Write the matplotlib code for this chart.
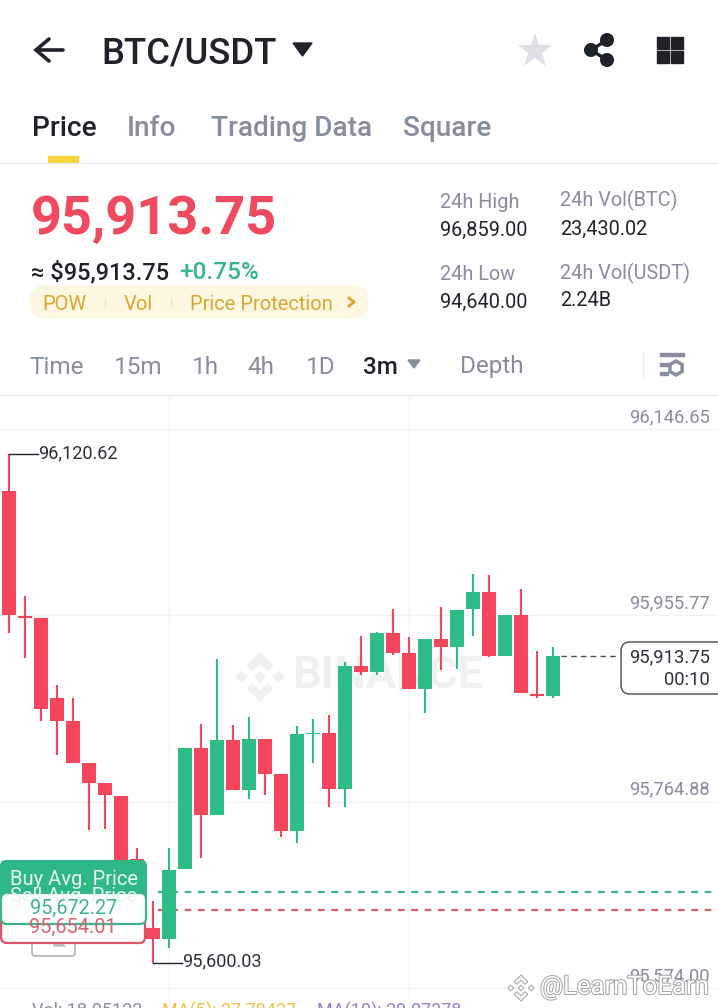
import matplotlib
matplotlib.use('Agg')
import matplotlib.pyplot as plt
import matplotlib.patheffects as pe
from matplotlib.patches import FancyBboxPatch, Rectangle, Circle, Polygon, RegularPolygon

W, H = 718, 1008
plt.rcParams['font.family'] = ['Roboto', 'DejaVu Sans']

# candles (oldest first)
opens = [96083.1, 95955.5, 95953.0, 95871.1, 95847.5, 95804.5, 95784.0, 95770.7, 95706.2, 95635.5,
         95624.2, 95695.9, 95819.9, 95751.2, 95828.1, 95776.8, 95829.1, 95793.2, 95734.8, 95834.6,
         95835.2, 95777.9, 95903.9, 95897.7, 95937.7, 95917.2, 95880.3, 95931.5, 95923.3, 95962.3,
         95979.7, 95914.1, 95956.1, 95875.2, 95873.1]
closes = [95956.1, 95953.5, 95859.8, 95847.5, 95804.5, 95784.0, 95771.7, 95705.1, 95635.5, 95624.2,
          95694.9, 95819.9, 95751.2, 95828.1, 95776.8, 95829.1, 95793.2, 95734.8, 95834.2, 95835.2,
          95777.9, 95903.9, 95897.7, 95937.7, 95917.2, 95880.3, 95931.5, 95923.3, 95961.2, 95979.7,
          95914.1, 95956.1, 95876.2, 95873.1, 95913.75]
highs = [96120.62, 95975.6, 95953.0, 95884.4, 95871.1, 95804.5, 95784.0, 95770.7, 95717.4, 95663.1,
         95717.4, 95819.9, 95844.4, 95911.0, 95843.4, 95851.6, 95829.1, 95793.2, 95842.4, 95849.6,
         95853.7, 95908.0, 95934.6, 95938.7, 95962.3, 95933.6, 95931.5, 95964.3, 95961.2, 95998.1,
         95997.1, 95956.1, 95982.7, 95919.2, 95923.3]
lows = [95937.7, 95912.1, 95847.8, 95812.7, 95804.5, 95735.9, 95736.9, 95705.1, 95635.5, 95600.03,
        95615.0, 95695.9, 95707.2, 95751.2, 95776.8, 95767.6, 95771.7, 95728.7, 95722.5, 95804.5,
        95759.4, 95759.4, 95894.6, 95894.6, 95915.1, 95880.3, 95855.7, 95899.8, 95900.8, 95934.6,
        95913.1, 95914.1, 95876.2, 95871.1, 95871.1]

price_ticks = [96146.65, 95955.77, 95764.88, 95574.00]
last_price = 95913.75
buy_avg = 95672.27
sell_avg = 95654.01

RED = '#f6465d'
GREEN = '#2ebd85'
DARK = '#1e2329'
GRAY = '#848e9c'
GRID = '#f0f1f3'

fig = plt.figure(figsize=(W / 100, H / 100), dpi=100, facecolor='white')


def pixel_axes(z):
    a = fig.add_axes([0, 0, 1, 1], zorder=z)
    a.set_xlim(0, W)
    a.set_ylim(H, 0)
    a.axis('off')
    a.patch.set_alpha(0)
    return a


def logo(a, cx, cy, s, **kw):
    # binance diamond: centre square, two side squares, two chevrons
    a.add_patch(Polygon([(cx, cy - s * .22), (cx + s * .22, cy), (cx, cy + s * .22), (cx - s * .22, cy)], **kw))
    for q in (1, -1):
        a.add_patch(Polygon([(cx - q * s, cy), (cx - q * s * .78, cy - s * .22), (cx - q * s * .56, cy),
                             (cx - q * s * .78, cy + s * .22)], **kw))
        a.add_patch(Polygon([(cx, cy - q * s), (cx + s * .52, cy - q * s * .48), (cx + s * .32, cy - q * s * .28),
                             (cx, cy - q * s * .6), (cx - s * .32, cy - q * s * .28), (cx - s * .52, cy - q * s * .48)], **kw))


back = pixel_axes(0)
ax = fig.add_axes([0, 0, 1, (H - 396) / H], zorder=1)
top = pixel_axes(2)

# ---- header
back.plot([63, 37], [50, 50], color=DARK, lw=2.6, solid_capstyle='round')
back.plot([49, 36, 49], [39, 50, 61], color=DARK, lw=2.6, solid_capstyle='round', solid_joinstyle='miter')
back.text(101.5, 54, 'BTC/USDT', fontsize=26.3, color=DARK, weight='medium', va='center')
back.add_patch(Polygon([(293, 43), (312, 43), (302.5, 56)], color=DARK))
back.plot(535, 51, marker='*', ms=26, color='#dde0e5', mew=0)
for cx, cy in [(607, 40), (591, 50), (607, 60)]:
    back.add_patch(Circle((cx, cy), 6.3, color=DARK))
back.plot([607, 591, 607], [40, 50, 60], color=DARK, lw=2.4)
for sx, sy in [(657, 37), (671, 37), (657, 51), (671, 51)]:
    back.add_patch(Rectangle((sx, sy), 12, 12, color=DARK))

# ---- tabs
tab_x = [31.5, 127, 211, 403]
tab_names = ['Price', 'Info', 'Trading Data', 'Square']
for i in range(4):
    back.text(tab_x[i], 128, tab_names[i], fontsize=20.2, va='center',
              color=DARK if i == 0 else GRAY, weight='medium')
back.add_patch(Rectangle((48, 156), 30, 6, color='#f8d33a'))
back.plot([0, W], [162.5, 162.5], color='#eaecef', lw=1)

# ---- price block
back.text(31, 219.5, '95,913.75', fontsize=39, color='#ef4a60', weight='bold', va='center')
back.text(31, 272.5, '≈ $95,913.75', fontsize=17, color=DARK, weight='medium', va='center')
back.text(179, 272.5, '+0.75%', fontsize=17.5, color='#36b786', weight='medium', va='center')
back.add_patch(FancyBboxPatch((38, 294), 322, 16, boxstyle='round,pad=0,rounding_size=6', mutation_aspect=1,
                              fc='#fdf6e1', ec='#fdf6e1', lw=12, joinstyle='round'))
for px, s in [(42, 'POW'), (124, 'Vol'), (190, 'Price Protection')]:
    back.text(px, 304, s, fontsize=14.5, color='#d8a82e', va='center')
back.plot([105, 105], [298, 306], color='#f1e3b4', lw=1)
back.plot([171, 171], [298, 306], color='#f1e3b4', lw=1)
back.plot([349, 354, 349], [298, 302, 306], color='#d8a82e', lw=2)

stats = [(440, 202.5, '24h High', GRAY), (440, 230, '96,859.00', DARK),
         (560, 200.5, '24h Vol(BTC)', GRAY), (560, 229, '23,430.02', DARK),
         (440, 274.5, '24h Low', GRAY), (440, 302, '94,640.00', DARK),
         (560, 273.5, '24h Vol(USDT)', GRAY), (560, 301, '2.24B', DARK)]
for px, py, s, c in stats:
    back.text(px, py, s, fontsize=14.3, color=c, va='center')

# ---- timeframe row
for px, s in [(29, 'Time'), (113.5, '15m'), (191.5, '1h'), (247.5, '4h'), (305.5, '1D'), (460, 'Depth')]:
    back.text(px, 367, s, fontsize=17.5, color=GRAY, va='center')
back.text(363.5, 367, '3m', fontsize=17.5, color=DARK, weight='medium', va='center')
back.add_patch(Polygon([(408, 360), (420, 360), (414, 368)], color=GRAY))
back.plot([643, 643], [352, 378], color='#e6e8eb', lw=1)
back.add_patch(Rectangle((660, 353), 24, 3, color=GRAY))
back.add_patch(Rectangle((660, 363), 8, 3, color=GRAY))
back.add_patch(Rectangle((660, 372), 8, 3, color=GRAY))
back.add_patch(RegularPolygon((676, 368), 6, radius=7, fc='white', ec=GRAY, lw=2.5))
back.plot([0, W], [395, 395], color='#eaecef', lw=1)

# ---- watermark under the candles
logo(back, 260, 677, 24, color='#eef0f1')
back.text(292, 676.5, 'BINANCE', fontsize=32.5, color='#eef0f1', weight='bold', va='center')

# ---- chart: 16px per candle, first one centred at x=9
ax.set_xlim(-9 / 16, (W - 9) / 16)
ax.set_ylim(95553.5, 96180.46)
ax.patch.set_alpha(0)
for side in ax.spines.values():
    side.set_visible(False)
ax.set_xticks([10, 25])
ax.set_xticklabels([])
ax.set_yticks(price_ticks)
ax.set_yticklabels([f'{p:,.2f}' for p in price_ticks], color=GRAY, fontsize=13.2, ha='right', va='bottom')
ax.yaxis.tick_right()
ax.tick_params(axis='both', length=0)
ax.tick_params(axis='y', pad=-5.8)
for lab in ax.get_yticklabels():
    lab.set_transform(lab.get_transform() + matplotlib.transforms.ScaledTranslation(0, 3 / 100, fig.dpi_scale_trans))
ax.grid(True, color=GRID, lw=1)
ax.set_axisbelow(True)

for i in range(len(opens)):
    c = GREEN if closes[i] >= opens[i] else RED
    ax.vlines(i, lows[i], highs[i], color=c, lw=1.5, zorder=3)
    ax.bar(i, abs(closes[i] - opens[i]), bottom=min(opens[i], closes[i]), width=0.875, color=c, lw=0, zorder=3)

ax.hlines(buy_avg, 9.3, 44, color='#3eb489', lw=1.6, linestyles=(0, (3, 3)), zorder=2)
ax.hlines(sell_avg, 9.3, 44, color='#d9606f', lw=1.6, linestyles=(0, (3, 3)), zorder=2)
ax.hlines(last_price, 34.5, 38, color='#474d57', lw=1, linestyles=(0, (4, 3)), zorder=2)

# high / low callouts
ax.plot([0, 1.8], [highs[0], highs[0]], color=DARK, lw=1, zorder=4)
ax.plot([9, 10.8], [lows[9], lows[9]], color=DARK, lw=1, zorder=4)
ax.text(1.83, highs[0] + 1.5, f'{highs[0]:,.2f}', color='#2b3139', fontsize=13.1, va='center', zorder=4)
ax.text(10.83, lows[9] + 1, f'{lows[9]:,.2f}', color='#2b3139', fontsize=13.1, va='center', zorder=4)

# ---- average price tags
top.add_patch(FancyBboxPatch((32, 930), 43, 26, boxstyle='round,pad=0,rounding_size=3', fc='white', ec='#a0a5ad', lw=1))
top.add_patch(Polygon([(54, 940), (65, 946), (54, 946)], color='#b8bcc3'))
top.add_patch(FancyBboxPatch((1, 895), 144, 48, boxstyle='round,pad=0,rounding_size=6', fc='white', ec='#dc5468', lw=1.6))
top.add_patch(FancyBboxPatch((0, 860), 147, 60, boxstyle='round,pad=0,rounding_size=6', fc='#2eb886', ec='none'))
top.text(73.5, 879.5, 'Buy Avg. Price', color='#e8f7f1', fontsize=14.5, ha='center', va='center')
sell_title = top.text(73.5, 897, 'Sell Avg. Price', color='#e8f7f1', fontsize=14.5, ha='center', va='center')
sell_title.set_clip_path(Rectangle((0, 860), 147, 33, transform=top.transData))
top.add_patch(FancyBboxPatch((1, 893), 145, 31, boxstyle='round,pad=0,rounding_size=6', fc='white', ec='#3eb489', lw=1.6))
top.text(73.5, 908.5, f'{buy_avg:,.2f}', color='#3eb489', fontsize=14.3, ha='center', va='center')
top.text(72.5, 927, f'{sell_avg:,.2f}', color='#d9606f', fontsize=14.3, ha='center', va='center')

# ---- last price tag
top.add_patch(FancyBboxPatch((621, 642), 110, 52, boxstyle='round,pad=0,rounding_size=9', fc='white', ec='#474d57', lw=1, clip_on=True))
top.text(710, 657, f'{last_price:,.2f}', color='#2b3139', fontsize=13.2, ha='right', va='center')
top.text(710, 680, '00:10', color='#2b3139', fontsize=13.2, ha='right', va='center')

# ---- indicator row, cut off by the bottom edge
top.text(32, 1011, 'Vol: 18.05122', color=GRAY, fontsize=13, va='center')
top.text(162, 1011, 'MA(5): 27.79437', color='#f0c24b', fontsize=13, va='center')
top.text(317, 1011, 'MA(10): 29.07378', color='#9b7fc4', fontsize=13, va='center')

# ---- repost stamp
stamp = [pe.withStroke(linewidth=1.4, foreground='#a0a0a0')]
top.text(540, 987, '@LearnToEarn', color='white', fontsize=18.5, va='center', path_effects=stamp)
logo(top, 521, 988, 13, fc='white', ec='#a8a8a8', lw=.8)

fig.savefig('out.png', dpi=100)
